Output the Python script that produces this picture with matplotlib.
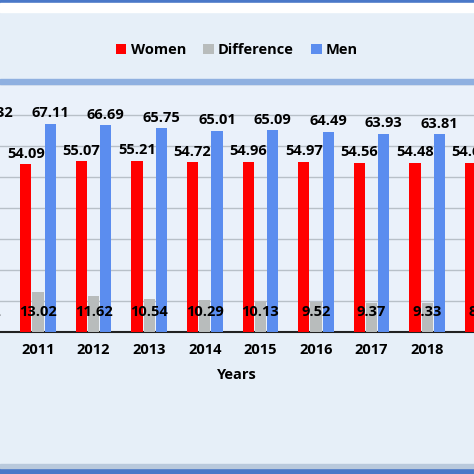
import matplotlib
matplotlib.use("Agg")
import matplotlib.pyplot as plt
from matplotlib.patches import Rectangle

years = [2010, 2011, 2012, 2013, 2014, 2015, 2016, 2017, 2018, 2019]
women = [53.90, 54.09, 55.07, 55.21, 54.72, 54.96, 54.97, 54.56, 54.48, 54.63]
diff = [13.42, 13.02, 11.62, 10.54, 10.29, 10.13, 9.52, 9.37, 9.33, 8.87]
men = [67.32, 67.11, 66.69, 65.75, 65.01, 65.09, 64.49, 63.93, 63.81, 63.50]

plt.rcParams['font.family'] = ['Open Sans', 'DejaVu Sans']
plt.rcParams['font.weight'] = 'bold'

fig = plt.figure(figsize=(4.74, 4.74), dpi=100)
fig.patch.set_facecolor('#e6eff8')
fig.add_artist(Rectangle((0, 0.994), 1, 0.006, transform=fig.transFigure, color='#4a78c8'))
fig.add_artist(Rectangle((0, 0.975), 1, 0.019, transform=fig.transFigure, color='white'))
fig.add_artist(Rectangle((0, 0.822), 1, 0.012, transform=fig.transFigure, color='#8fb0e0'))
fig.add_artist(Rectangle((0, 0.0), 1, 0.012, transform=fig.transFigure, color='#4a78c8'))
fig.add_artist(Rectangle((0, 0.012), 1, 0.01, transform=fig.transFigure, color='#b9c9dc'))

ax = fig.add_axes([0, 0.2996, 1, 0.523])
ax.set_facecolor('#eaf1fa')
w = 0.2
off = 0.22
xs = years
ax.bar([x - off for x in xs], women, w, color='#ff0000', label='Women', zorder=3)
ax.bar(xs, diff, w, color='#b8bcbc', label='Difference', zorder=3)
ax.bar([x + off for x in xs], men, w, color='#5b8def', label='Men', zorder=3)

for x, a, d, m in zip(xs, women, diff, men):
    ax.text(x - off, a + 1.2, f"{a:.2f}", ha='center', va='bottom', fontsize=10.5, fontweight='bold', zorder=4)
    ax.text(x + off, m + 1.2, f"{m:.2f}", ha='center', va='bottom', fontsize=10.5, fontweight='bold', zorder=4)
    ax.text(x, 6.3, f"{d:.2f}", ha='center', va='center', fontsize=10.5, fontweight='bold', zorder=4)

ax.set_xticks(years)
ax.set_xticklabels([str(y) for y in years], fontsize=10.5, fontweight='bold')
ax.set_xlim(2010.317, 2018.842)
ax.set_ylim(0, 80)
ax.set_yticks(range(0, 81, 10))
ax.yaxis.grid(True, color='#b8c0c8', linewidth=1, zorder=0)
ax.tick_params(axis='y', left=False, labelleft=False)
ax.tick_params(axis='x', length=0, pad=8)
for s in ['top', 'left', 'right']:
    ax.spines[s].set_visible(False)
ax.spines['bottom'].set_color('#222222')
ax.spines['bottom'].set_linewidth(1.5)
ax.set_xlabel('Years', fontsize=10.5, fontweight='bold', labelpad=8)

fig.legend(loc='center', bbox_to_anchor=(0.5, 0.895), ncol=3, frameon=False,
           handlelength=0.7, handleheight=0.7, columnspacing=1.2, handletextpad=0.3,
           prop={'weight': 'bold', 'size': 10.5})

fig.savefig('out.png', dpi=100, facecolor=fig.get_facecolor())
